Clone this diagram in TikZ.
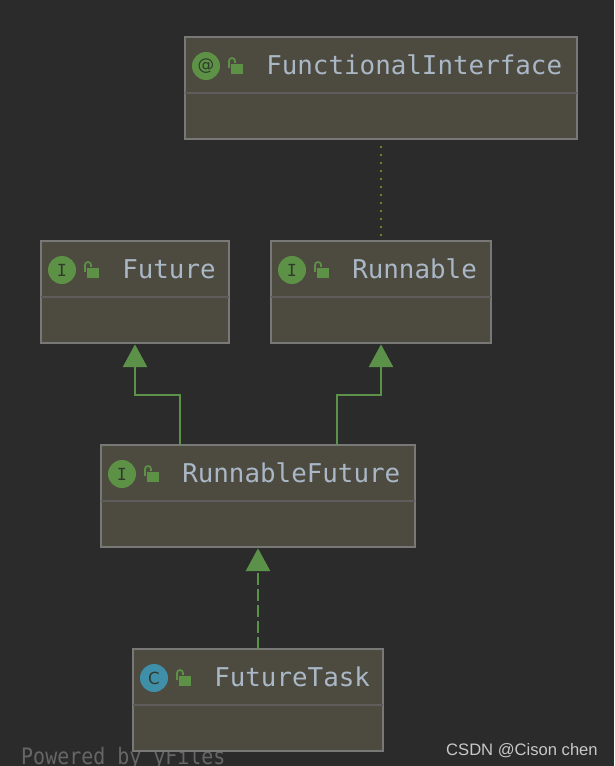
\documentclass[tikz,border=0pt]{standalone}
\usepackage{fontspec}
\setmainfont{Liberation Sans}
\setsansfont{DejaVu Sans}
\setmonofont{DejaVu Sans Mono}
\usetikzlibrary{arrows.meta}
\definecolor{canvasgrey}{HTML}{2B2B2B}
\definecolor{boxfill}{HTML}{4D4A3F}
\definecolor{boxedge}{HTML}{787876}
\definecolor{boxsep}{HTML}{5E5D5B}
\definecolor{nametext}{HTML}{A9B7C6}
\definecolor{kindgreen}{HTML}{5C9146}
\definecolor{kindblue}{HTML}{3F8FA8}
\definecolor{kindmark}{HTML}{2F3A2C}
\definecolor{edgegreen}{HTML}{5B9148}
\definecolor{dotgreen}{HTML}{7A7F1E}
\definecolor{wmgrey}{HTML}{666666}
\definecolor{csdngrey}{HTML}{C8C8C8}
\begin{document}
\begin{tikzpicture}
[
    x=0.75pt, y=-0.75pt,
    classbox/.style={draw=boxedge, fill=boxfill, line width=1.5pt, inner sep=0, outer sep=0, minimum height=76.5pt},
    kindicon/.style={circle, inner sep=0, minimum size=21pt, text=kindmark, font=\ttfamily\fontsize{12.5}{13}\selectfont},
    classname/.style={anchor=base west, inner sep=0, text=nametext, font=\ttfamily\fontsize{19.4}{20}\selectfont},
    realize/.style={draw=edgegreen, line width=1.7pt, shorten >=1pt, -{Triangle[length=17pt, width=18pt, fill=edgegreen]}},
]
\useasboundingbox (0,0) rectangle (614,766);
\fill[canvasgrey] (0,0) rectangle (614,766);

\begin{scope}
\clip (0,0) rectangle (614,766);
\node[anchor=base west, inner sep=0, xscale=0.88, text=wmgrey, font=\ttfamily\fontsize{17}{18}\selectfont] (powered) at (21,764) {Powered by yFiles};
\end{scope}

% class boxes: name/centre x/centre y/width in pt/icon colour/icon letter/label
\foreach \nm/\cx/\cy/\bw/\col/\ltr/\lab in {
    funcif/381/88/294/kindgreen/{\sffamily @}/FunctionalInterface,
    future/135/292/141/kindgreen/I/Future,
    runnable/381/292/165/kindgreen/I/Runnable,
    rfuture/258/496/235.5/kindgreen/I/RunnableFuture,
    ftask/258/700/187.5/kindblue/{\sffamily C}/FutureTask}
{
    \node[classbox, minimum width=\bw pt] (\nm) at (\cx,\cy) {};
    \draw[boxsep, line width=1.5pt] ([yshift=-3.75pt]\nm.west) -- ([yshift=-3.75pt]\nm.east);
    \node[kindicon, fill=\col] (\nm icon) at ([xshift=15.75pt, yshift=16.5pt]\nm.west) {\ltr};
    \node[classname] (\nm label) at ([xshift=60.75pt, yshift=10.25pt]\nm.west) {\lab};
    % open padlock
    \fill[kindgreen] ([xshift=34.5pt, yshift=18pt]\nm.west) rectangle ++(12,10);
    \draw[kindgreen, line width=1.3pt] ([xshift=33pt, yshift=15pt]\nm.west) -- ++(0,-7) arc[start angle=180, end angle=360, radius=3] -- ++(0,2);
}

\draw[dotgreen, line width=1.5pt, dash pattern=on 1.5pt off 4.5pt, shorten <=5.5pt, shorten >=3.75pt] (funcif.south) -- (runnable.north);
\draw[realize] ([xshift=-58.5pt]rfuture.north) -- ++(0,-50) -| (future.south);
\draw[realize] ([xshift=59.25pt]rfuture.north) -- ++(0,-50) -| (runnable.south);
\draw[realize, dash pattern=on 9pt off 3pt] (ftask.north) -- (rfuture.south);

\node[anchor=base east, inner sep=0, text=csdngrey, font=\fontsize{12.45}{13}\selectfont] (csdn) at (598,755) {CSDN @Cison chen};
\end{tikzpicture}
\end{document}
